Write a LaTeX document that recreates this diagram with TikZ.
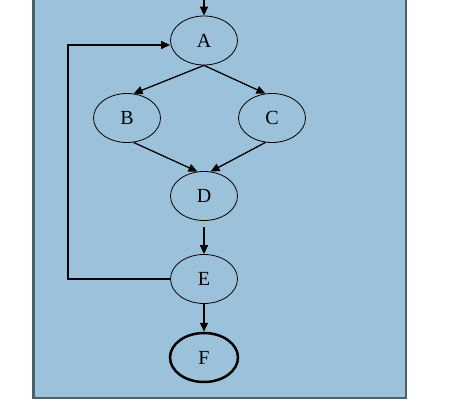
\documentclass[tikz,border=0pt]{standalone}
\usepackage{xcolor}
\usepackage{fontspec}
\setmainfont{Liberation Serif}
\usepackage{tikz}
\usetikzlibrary{shapes,arrows.meta,positioning}
\definecolor{panelfill}{RGB}{155,194,218}
\definecolor{panelline}{RGB}{76,96,108}
\begin{document}
\begin{tikzpicture}[x=1pt, y=-1pt,
    state/.style={draw, ellipse, minimum width=67pt, minimum height=49pt, inner sep=0pt, line width=0.8pt, font=\fontsize{20}{24}\selectfont},
    flow/.style={-{Triangle[length=9pt,width=8pt]}, line width=1.3pt}]
        \useasboundingbox (0,0) rectangle (476,411);
        % Background panel
        \draw[panelline, fill=panelfill, line width=2.7pt] (33.5,-10) rectangle (406,398);

        % Define nodes with proper vertical alignment
        \coordinate (entry) at (204,-4);
        \node[state] (A) at (204,40.5) {A};
        \node[state] (B) at (127,118) {B};
        \node[state] (C) at (272,118) {C};
        \node[state] (D) at (204,196) {D};
        \node[state] (E) at (204,279) {E};
        \node[state, line width=2.5pt, minimum width=68pt] (F) at (204,357.5) {F};
        \coordinate (loop) at (68,45);

        % Connect nodes
        \draw[flow] (entry) -- (A.north);
        \draw[flow] (A.south) -- (B.75);
        \draw[flow] (A.south) -- (C.105);
        \draw[flow] (B.-75) -- (D.105);
        \draw[flow] (C.-105) -- (D.75);
        \draw[flow] ([yshift=-6pt]D.south) -- (E.north);
        \draw[flow] (E.south) -- (F.north);
        \draw[flow] (E.west) -| (loop) -- (loop -| A.west);
    \end{tikzpicture}
\end{document}
